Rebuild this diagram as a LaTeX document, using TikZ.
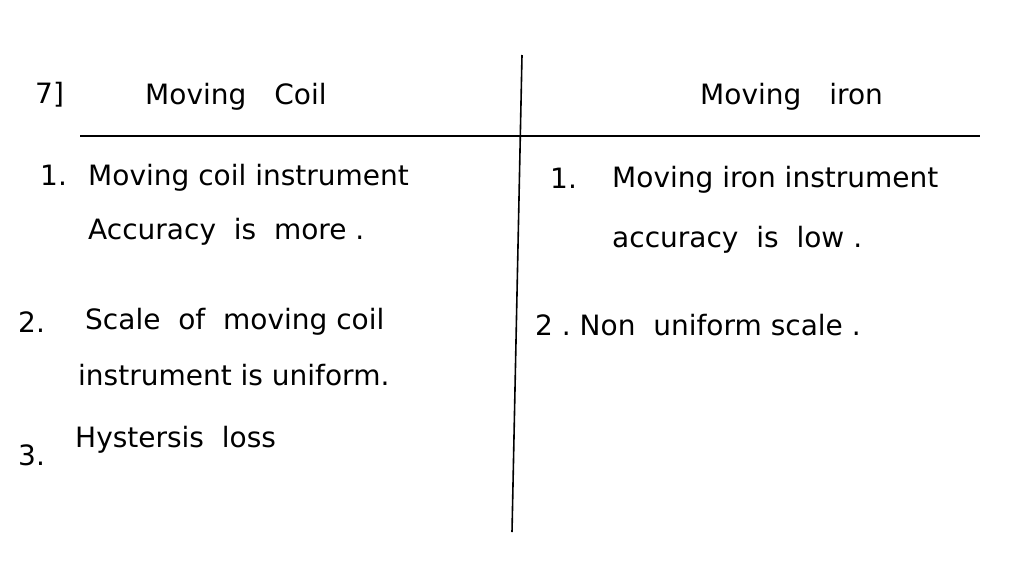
\documentclass[tikz,border=0pt]{standalone}
\usepackage{fontspec}
\setmainfont{DejaVu Sans}
\begin{document}
\begin{tikzpicture}[x=1pt,y=-1pt,
  txt/.style={anchor=west,inner sep=0pt,font=\fontsize{28}{32}\selectfont},
  rule/.style={line width=1.6pt,black}]
\useasboundingbox[fill=white] (0,0) rectangle (1024,576);
\coordinate (vt) at (522,55); \coordinate (vb) at (512,532);
\coordinate (hl) at (80,136); \coordinate (hr) at (980,136);
\draw[rule] (vt) -- (vb);
\draw[rule] (hl) -- (hr);
\node[txt] (n7) at (35,95) {7]};
\node[txt] (mc) at (145,97) {Moving\quad Coil};
\node[txt] (mi) at (700,97) {Moving\quad iron};
\node[txt] (l1) at (40,175) {1.};
\node[txt] (a1) at (88,178) {Moving\ coil\ instrument};
\node[txt] (a2) at (88,232) {Accuracy\ \ is\ \ more .};
\node[txt] (l2) at (18,322) {2.};
\node[txt] (b1) at (85,322) {Scale\ \ of\ \ moving\ coil};
\node[txt] (b2) at (78,375) {instrument\ is\ uniform.};
\node[txt] (l3) at (18,455) {3.};
\node[txt] (c1) at (75,440) {Hystersis\ \ loss};
\node[txt] (r1) at (550,178) {1.};
\node[txt] (d1) at (612,180) {Moving\ iron\ instrument};
\node[txt] (d2) at (612,240) {accuracy\ \ is\ \ low .};
\node[txt] (e1) at (535,325) {2 .\ Non\ \ uniform\ scale .};
\end{tikzpicture}
\end{document}
